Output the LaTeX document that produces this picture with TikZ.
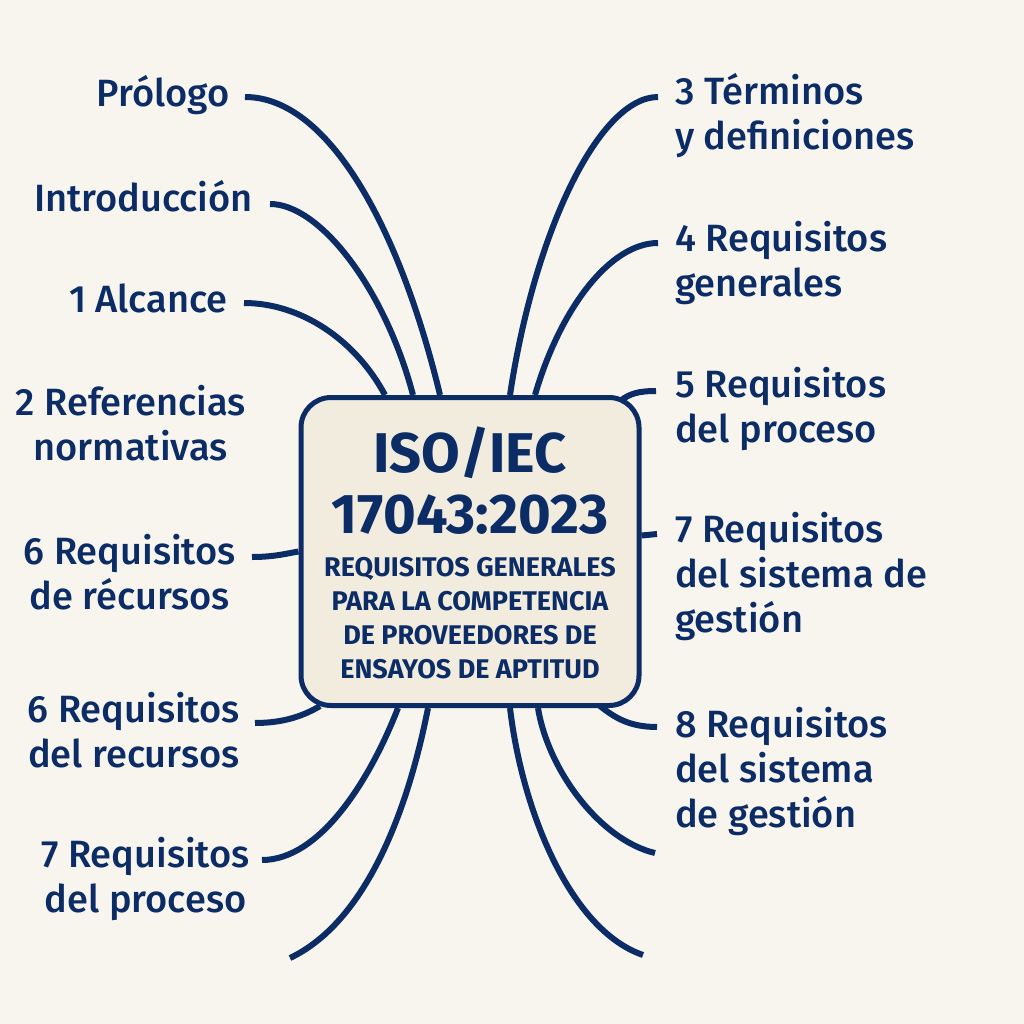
\documentclass[tikz,border=0pt]{standalone}
\usepackage{fontspec}
\IfFontExistsTF{Fira Sans Medium}
  {\setmainfont{Fira Sans}[UprightFont=* Medium, BoldFont=* Bold]}
  {\setmainfont{Fira Sans}}
\usetikzlibrary{calc,positioning}
\definecolor{navy}{RGB}{12,44,102}
\definecolor{paper}{RGB}{248,245,239}
\definecolor{boxbeige}{RGB}{242,236,223}
\newcommand{\lblfont}{\fontsize{38}{45}\selectfont}
\newcommand{\linkw}{6pt}
\pgfdeclarelayer{paperbg}
\pgfdeclarelayer{links}
\pgfsetlayers{paperbg,links,main}
\tikzset{
    lsty/.style={anchor=base east, align=center, text=navy, font=\lblfont, inner sep=0pt},
    rsty/.style={anchor=base west, align=left, text=navy, font=\lblfont, inner sep=0pt},
    linksty/.style={draw=navy, line width=\linkw},
    boxsty/.style={draw=navy, line width=5pt, fill=boxbeige, rounded corners=30pt, minimum width=338pt, minimum height=308pt},
    titlesty/.style={anchor=base, align=center, text=navy, font=\fontsize{56}{61}\selectfont\bfseries, inner sep=0pt},
    substy/.style={anchor=base, align=center, text=navy, font=\fontsize{27}{34}\selectfont\bfseries, inner sep=0pt},
}

\begin{document}
\begin{tikzpicture}[x=1pt,y=-1pt]
  \begin{pgfonlayer}{paperbg}
    \fill[paper] (0,0) rectangle (1024,1024);
  \end{pgfonlayer}

  \node[boxsty] (box) at (470,551.5) {};
  \node[titlesty] (title) at (470,533) {ISO/IEC\\17043:2023};
  \node[substy] (sub) at (470,678) {REQUISITOS GENERALES\\PARA LA COMPETENCIA\\DE PROVEEDORES DE\\ENSAYOS DE APTITUD};

  \node[lsty] (prol) at (230,107) {Prólogo};
  \node[lsty] (intro) at (253,212) {Introducción};
  \node[lsty] (alc) at (228,312) {1 Alcance};
  \node[lsty] (refs) at (246,460) {2 Referencias\\normativas};
  \node[lsty] (recA) at (236,609) {6 Requisitos\\de récursos};
  \node[lsty] (recB) at (240,767) {6 Requisitos\\del recursos};
  \node[lsty] (procA) at (250,912) {7 Requisitos\\del proceso};

  \node[rsty] (term) at (675,150) {3 Términos\\y definiciones};
  \node[rsty] (gen) at (675,296) {4 Requisitos\\generales};
  \node[rsty] (procB) at (675,442) {5 Requisitos\\del proceso};
  \node[rsty] (sysA) at (675,632) {7 Requisitos\\del sistema de\\gestión};
  \node[rsty] (sysB) at (675,827) {8 Requisitos\\del sistema\\de gestión};

  \coordinate (tailL) at (290,958);
  \coordinate (tailR) at (643,955);
  \coordinate (tailM) at (655,853);

  \begin{pgfonlayer}{links}
    \draw[linksty] ([xshift=15pt,yshift=10pt]prol.base east) .. controls +(84,0) and +(-40,-166) .. ([xshift=-30pt]box.north);
    \draw[linksty] ([xshift=17pt,yshift=8pt]intro.base east) .. controls +(50,0) and +(-28,-106) .. ([xshift=-57pt]box.north);
    \draw[linksty] ([xshift=16pt,yshift=9pt]alc.base east) .. controls +(56,0) and +(-30,-56) .. ([xshift=-85pt]box.north);
    \draw[linksty] ([xshift=-17pt,yshift=53pt]term.base west) .. controls +(-58,0) and +(25,-166) .. ([xshift=40pt]box.north);
    \draw[linksty] ([xshift=-17pt,yshift=53pt]gen.base west) .. controls +(-48,0) and +(25,-86) .. ([xshift=65pt]box.north);
    \draw[linksty] ([xshift=-19pt,yshift=51pt]procB.base west) .. controls +(-18,0) and +(8,-6) .. ([xshift=-20pt,yshift=-5pt]box.north east);
    \draw[linksty] ([yshift=16pt]box.east) -- ([xshift=-18pt,yshift=98pt]sysA.base west);
    \draw[linksty] ([xshift=16pt,yshift=52pt]recA.base east) .. controls +(22,0) and +(-12,2) .. (box.west);
    \draw[linksty] ([xshift=15pt,yshift=44pt]recB.base east) .. controls +(30,0) and +(-15,9) .. ([xshift=-150pt,yshift=2pt]box.south);
    \draw[linksty] ([xshift=12pt,yshift=52pt]procA.base east) .. controls +(58,0) and +(-28,72) .. ([xshift=-72pt]box.south);
    \draw[linksty] ([xshift=-18pt,yshift=100pt]sysB.base west) .. controls +(-27,0) and +(15,12) .. ([xshift=130pt,yshift=2pt]box.south);
    \draw[linksty] ([xshift=-42pt]box.south) .. controls +(-18,92) and +(80,-38) .. (tailL);
    \draw[linksty] ([xshift=40pt]box.south) .. controls +(12,102) and +(-73,-25) .. (tailR);
    \draw[linksty] ([xshift=68pt]box.south) .. controls +(10,62) and +(-55,-13) .. (tailM);
  \end{pgfonlayer}
\end{tikzpicture}
\end{document}
